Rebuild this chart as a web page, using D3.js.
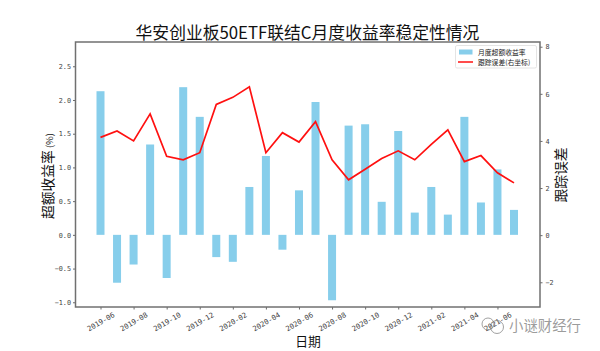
<!DOCTYPE html>
<html><head><meta charset="utf-8">
<script src="https://cdn.jsdelivr.net/npm/d3@7/dist/d3.min.js"></script>
<style>
html,body{margin:0;padding:0;background:#fff}
svg{display:block}
text{font-family:"Noto Sans CJK SC","DejaVu Sans",sans-serif}
</style></head><body>
<svg id="c" width="600" height="351"></svg>
<script>
const months=["2019-06","2019-07","2019-08","2019-09","2019-10","2019-11","2019-12","2020-01","2020-02","2020-03","2020-04","2020-05","2020-06","2020-07","2020-08","2020-09","2020-10","2020-11","2020-12","2021-01","2021-02","2021-03","2021-04","2021-05","2021-06","2021-07"];
const excess=[2.13,-0.71,-0.44,1.34,-0.64,2.19,1.75,-0.33,-0.40,0.71,1.17,-0.22,0.66,1.97,-0.97,1.62,1.64,0.49,1.54,0.33,0.71,0.30,1.75,0.48,0.97,0.37];
const tracking=[4.15,4.42,4.0,5.15,3.35,3.2,3.5,5.55,5.85,6.3,3.5,4.35,3.95,4.82,3.2,2.35,2.8,3.25,3.58,3.2,3.85,4.47,3.12,3.38,2.65,2.22];
const xTickLabels=months.filter((d,i)=>i%2===0);
const leftTicks=[-1,-0.5,0,0.5,1,1.5,2,2.5];
const rightTicks=[-2,0,2,4,6,8];
const title="华安创业板50ETF联结C月度收益率稳定性情况";
const xTitle="日期", yLeftTitle="超额收益率", yLeftUnit="(%)", yRightTitle="跟踪误差";
const legendBar="月度超额收益率", legendLine="跟踪误差(右坐标)";
const watermark="小谜财经行";

const L=75.5,R=540,T=42,B=307;
const svg=d3.select("#c");
const x=d3.scalePoint().domain(months).range([100.5,514]);
const y=d3.scaleLinear().domain([-1.07,2.86]).range([B,T]);
const y2=d3.scaleLinear().domain([-3.05,8.2]).range([B,T]);
const ink="#444", spine="#707070";

svg.append("g").selectAll("rect").data(months).join("rect")
 .attr("x",d=>x(d)-4).attr("width",8)
 .attr("y",(d,i)=>Math.min(y(excess[i]),y(0)))
 .attr("height",(d,i)=>Math.abs(y(excess[i])-y(0)))
 .attr("fill","#87ceeb");

svg.append("path").datum(tracking)
 .attr("fill","none").attr("stroke","#ff1010").attr("stroke-width",1.7)
 .attr("d",d3.line().x((d,i)=>x(months[i])).y(d=>y2(d)));

function styleAxis(g){
 g.select(".domain").remove();
 g.selectAll("line").attr("stroke",ink).attr("stroke-width",0.8);
 g.selectAll("text").attr("fill",ink).style("font-size","6.8px").style("font-family","'DejaVu Sans Mono','Noto Sans CJK SC',monospace");
}
svg.append("g").attr("transform",`translate(${L},0)`)
 .call(d3.axisLeft(y).tickValues(leftTicks).tickFormat(d3.format(".1f")).tickSize(2.5).tickPadding(2)).call(styleAxis);
svg.append("g").attr("transform",`translate(${R},0)`)
 .call(d3.axisRight(y2).tickValues(rightTicks).tickFormat(d3.format("d")).tickSize(2.5).tickPadding(3)).call(styleAxis);
const gx=svg.append("g").attr("transform",`translate(0,${B})`)
 .call(d3.axisBottom(x).tickValues(xTickLabels).tickSize(2.5)).call(styleAxis);
gx.selectAll("text").style("font-size","7.2px").attr("text-anchor","middle").attr("dy","0.32em").attr("y",0)
 .attr("transform","translate(0,15) rotate(-30)");

svg.append("rect").attr("x",L).attr("y",T).attr("width",R-L).attr("height",B-T)
 .attr("fill","none").attr("stroke",spine).attr("stroke-width",1.5);

svg.append("text").attr("x",307.5).attr("y",38.5).attr("text-anchor","middle")
 .style("font-size","16.8px").attr("fill","#111").text(title);
svg.append("text").attr("x",308).attr("y",346).attr("text-anchor","middle")
 .style("font-size","12.8px").attr("fill","#111").text(xTitle);
const yl=svg.append("text").attr("transform","translate(53,176) rotate(-90)").attr("text-anchor","middle")
 .style("font-size","13.8px").attr("fill","#111").text(yLeftTitle);
yl.append("tspan").style("font-size","9.5px").attr("dx",2).text(yLeftUnit);
svg.append("text").attr("transform","translate(566,175) rotate(-90)").attr("text-anchor","middle")
 .style("font-size","13.8px").attr("fill","#111").text(yRightTitle);

const lg=svg.append("g");
lg.append("rect").attr("x",455.5).attr("y",45.5).attr("width",81).attr("height",22.5).attr("rx",1.5)
 .attr("fill","#fff").attr("stroke","#ddd").attr("stroke-width",0.8);
lg.append("rect").attr("x",459).attr("y",49.5).attr("width",13.5).attr("height",5).attr("fill","#87ceeb");
lg.append("line").attr("x1",458).attr("x2",473).attr("y1",62).attr("y2",62).attr("stroke","#ff1010").attr("stroke-width",1.5);
lg.append("text").attr("x",478).attr("y",54.8).style("font-size","6.8px").attr("fill","#222").text(legendBar);
lg.append("text").attr("x",478).attr("y",65).style("font-size","6.8px").attr("fill","#222").text(legendLine);

const wm=svg.append("g").attr("fill","none").attr("stroke","#8a8a8a").attr("stroke-width",1).attr("stroke-opacity",0.8);
wm.append("circle").attr("cx",488).attr("cy",324).attr("r",6);
wm.append("circle").attr("cx",497).attr("cy",327).attr("r",6.5);
svg.append("text").attr("x",509).attr("y",331).style("font-size","14.4px").attr("fill","#8a8a8a").attr("fill-opacity",0.85).text(watermark);
</script>
</body></html>
